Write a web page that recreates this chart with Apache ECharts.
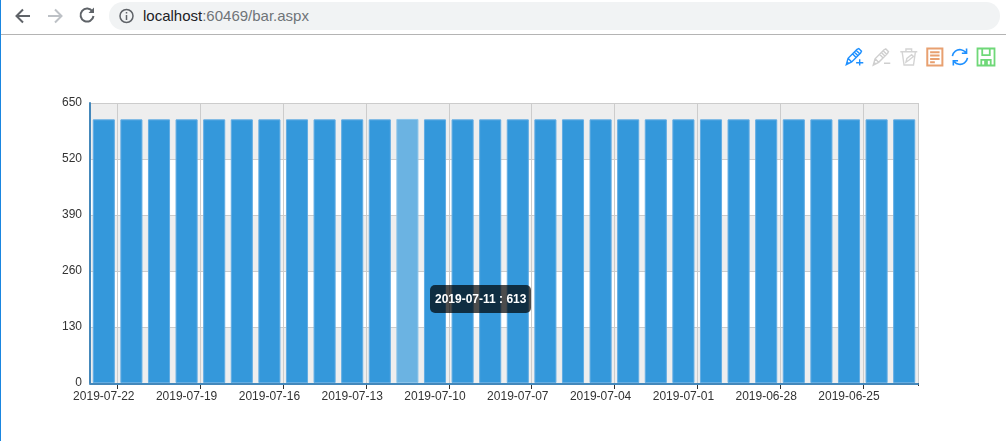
<!DOCTYPE html>
<html>
<head>
<meta charset="utf-8">
<title>bar</title>
<script src="https://cdn.jsdelivr.net/npm/echarts@6/dist/echarts.min.js"></script>
<style>
html, body { margin: 0; padding: 0; background: #fff; overflow: hidden; }
#page { position: relative; width: 1006px; height: 441px; }
#edge { position: absolute; left: 0; top: 0; width: 1px; height: 441px; background: #1a86e0; z-index: 5; }
#bar { position: absolute; left: 0; top: 0; width: 1006px; height: 34px; background: #fff; border-bottom: 1px solid #b4b4b4; box-sizing: content-box; }
#bar svg { position: absolute; left: 0; top: 0; }
#pill { position: absolute; left: 109px; top: 2px; width: 891px; height: 28px; border-radius: 14px; background: #f1f3f4; }
#url { position: absolute; left: 143px; top: 6px; font: 15px/20px "Liberation Sans", Arial, sans-serif; color: #202124; white-space: nowrap; }
#url span { color: #6f7478; }
#main { position: absolute; left: 0; top: 0; width: 1006px; height: 441px; }
</style>
</head>
<body>
<div id="page">
  <div id="main"></div>
  <div id="bar">
    <div id="pill"></div>
    <svg width="150" height="34" fill="none" stroke-width="2">
      <path d="M30 16H17M23 9.500L16.500 16L23 22.500" stroke="#5f6368"/>
      <path d="M48 16H61M55 9.500L61.500 16L55 22.500" stroke="#bdc1c6"/>
      <path d="M92.500 11.500A6.500 6.500 0 1 0 93.500 16" stroke="#5f6368"/>
      <path d="M94 7.500V13H88.500Z" fill="#5f6368"/>
      <circle cx="126.500" cy="16" r="6.500" stroke="#5f6368" stroke-width="1.500"/>
      <path d="M126.500 15V20M126.500 12V13.500" stroke="#5f6368" stroke-width="1.500"/>
    </svg>
    <div id="url">localhost<span>:60469/bar.aspx</span></div>
  </div>
  <div id="edge"></div>
</div>
<script>
var categories = ['2019-07-22','2019-07-21','2019-07-20','2019-07-19','2019-07-18','2019-07-17','2019-07-16','2019-07-15','2019-07-14','2019-07-13',
  '2019-07-12','2019-07-11','2019-07-10','2019-07-09','2019-07-08','2019-07-07','2019-07-06','2019-07-05','2019-07-04','2019-07-03',
  '2019-07-02','2019-07-01','2019-06-30','2019-06-29','2019-06-28','2019-06-27','2019-06-26','2019-06-25','2019-06-24','2019-06-23'];
var counts = [612,612,612,612,612,612,612,612,612,612,612,613,612,612,612,612,612,612,612,612,612,612,612,612,612,612,612,612,612,612];
var yTicks = [0,130,260,390,520,650];

var icons = {
  zoomIn: 'path://M1 19L3 12L13 2L15 1L18 4L17 6L7 16ZM3 12L7 16M12 3L16 7M10 5L14 9M8 7L12 11M1 19L3 16M12 17H20M16 13V20',
  zoomOut: 'path://M1 19L3 12L13 2L15 1L18 4L17 6L7 16ZM3 12L7 16M12 3L16 7M10 5L14 9M8 7L12 11M1 19L3 16M13 17H20',
  clear: 'path://M1 5H19M7 5V2H13V5M3 5L5 19H15L17 5M7 16L8 12L13 8L15 10L10 14Z',
  view: 'path://M2 1H18V19H2ZM5 5H15M5 8.500H15M5 12H15M5 15.500H10',
  restore: 'path://M2 9A8 8 0 0 1 16 5M17 1V6H12M18 11A8 8 0 0 1 4 15M3 19V14H8',
  save: 'path://M1 1H19V19H1ZM6 1V8H14V1M5 19V13H15V19M9 15H11V17H9Z'
};
function tool(title, icon, color, width) {
  return { show: true, title: title, icon: icon, iconStyle: { color: 'none', borderColor: color, borderWidth: width }, onclick: function () {} };
}

var chart = echarts.init(document.getElementById('main'), null, { renderer: 'canvas' });
chart.setOption({
  animation: false,
  textStyle: { fontFamily: '"Liberation Sans", Arial, sans-serif' },
  grid: { left: 90, right: 88, top: 103, bottom: 58, containLabel: false },
  toolbox: {
    show: true, right: -6, top: 31, itemSize: 17, itemGap: 5,
    feature: {
      myZoomIn: tool('zoom', icons.zoomIn, '#1e90ff', 1.4),
      myZoomOut: tool('back', icons.zoomOut, '#cfcfcf', 1.4),
      myClear: tool('clear', icons.clear, '#d4d4d4', 1.4),
      myView: tool('data', icons.view, '#e8a070', 2),
      myRestore: tool('restore', icons.restore, '#1e90ff', 1.6),
      mySave: tool('save', icons.save, '#6fd878', 1.8)
    }
  },
  tooltip: {
    trigger: 'item',
    alwaysShowContent: true,
    position: [430, 285],
    backgroundColor: 'rgba(0,0,0,0.7)',
    borderWidth: 0,
    borderRadius: 5,
    padding: [7, 5],
    textStyle: { color: '#fff', fontSize: 12, fontWeight: 'bold', fontFamily: '"Liberation Sans", Arial, sans-serif', lineHeight: 14 },
    extraCssText: 'box-shadow:none;',
    formatter: function (p) { return p.name + ' : ' + p.value; }
  },
  xAxis: [{
    type: 'category',
    data: categories,
    position: 'bottom',
    axisLine: { show: false },
    axisTick: { show: true, length: 6, interval: function (i) { return i % 3 === 1; }, lineStyle: { color: '#333', width: 1 } },
    axisLabel: { interval: 2, color: '#333', fontSize: 12, margin: 8, hideOverlap: false, showMinLabel: true },
    splitLine: { show: true, interval: function (i) { return i % 3 === 1; }, lineStyle: { color: '#ccc', width: 1 } }
  }, {
    // second axis only to draw the blue line above the bars
    type: 'category',
    data: categories,
    position: 'bottom',
    offset: 1,
    z: 5,
    axisLine: { show: true, onZero: false, lineStyle: { color: '#4488bb', width: 2 } },
    axisTick: { show: false },
    axisLabel: { show: false },
    splitLine: { show: false }
  }],
  yAxis: [{
    type: 'value',
    min: yTicks[0],
    max: yTicks[yTicks.length - 1],
    interval: yTicks[1] - yTicks[0],
    position: 'left',
    axisLine: { show: false },
    axisTick: { show: false },
    axisLabel: { color: '#333', fontSize: 12, margin: 8, padding: [4, 0, 0, 0] },
    splitLine: { show: true, lineStyle: { color: '#ccc', width: 1 } },
    splitArea: { show: true, areaStyle: { color: ['#eeeeee', '#ffffff'] } }
  }, {
    type: 'value',
    min: yTicks[0],
    max: yTicks[yTicks.length - 1],
    interval: yTicks[1] - yTicks[0],
    position: 'left',
    z: 5,
    axisLine: { show: true, onZero: false, lineStyle: { color: '#4488bb', width: 2 } },
    axisTick: { show: false },
    axisLabel: { show: false },
    splitLine: { show: false },
    splitArea: { show: false }
  }],
  // the reference has no end tick on the right of the axis
  graphic: [{ type: 'rect', shape: { x: 915, y: 386, width: 6, height: 6 }, style: { fill: '#fff' }, z: 100 }],
  series: [{
    type: 'bar',
    name: 'count',
    data: counts,
    xAxisIndex: 0,
    yAxisIndex: 0,
    barCategoryGap: '20%',
    itemStyle: { color: '#3498db', borderColor: '#63ade3', borderWidth: 1 },
    emphasis: { itemStyle: { color: '#6bb3e2', borderColor: '#8cc4ea' } }
  }]
});
chart.dispatchAction({ type: 'highlight', seriesIndex: 0, dataIndex: 11 });
chart.dispatchAction({ type: 'showTip', seriesIndex: 0, dataIndex: 11 });
</script>
</body>
</html>
